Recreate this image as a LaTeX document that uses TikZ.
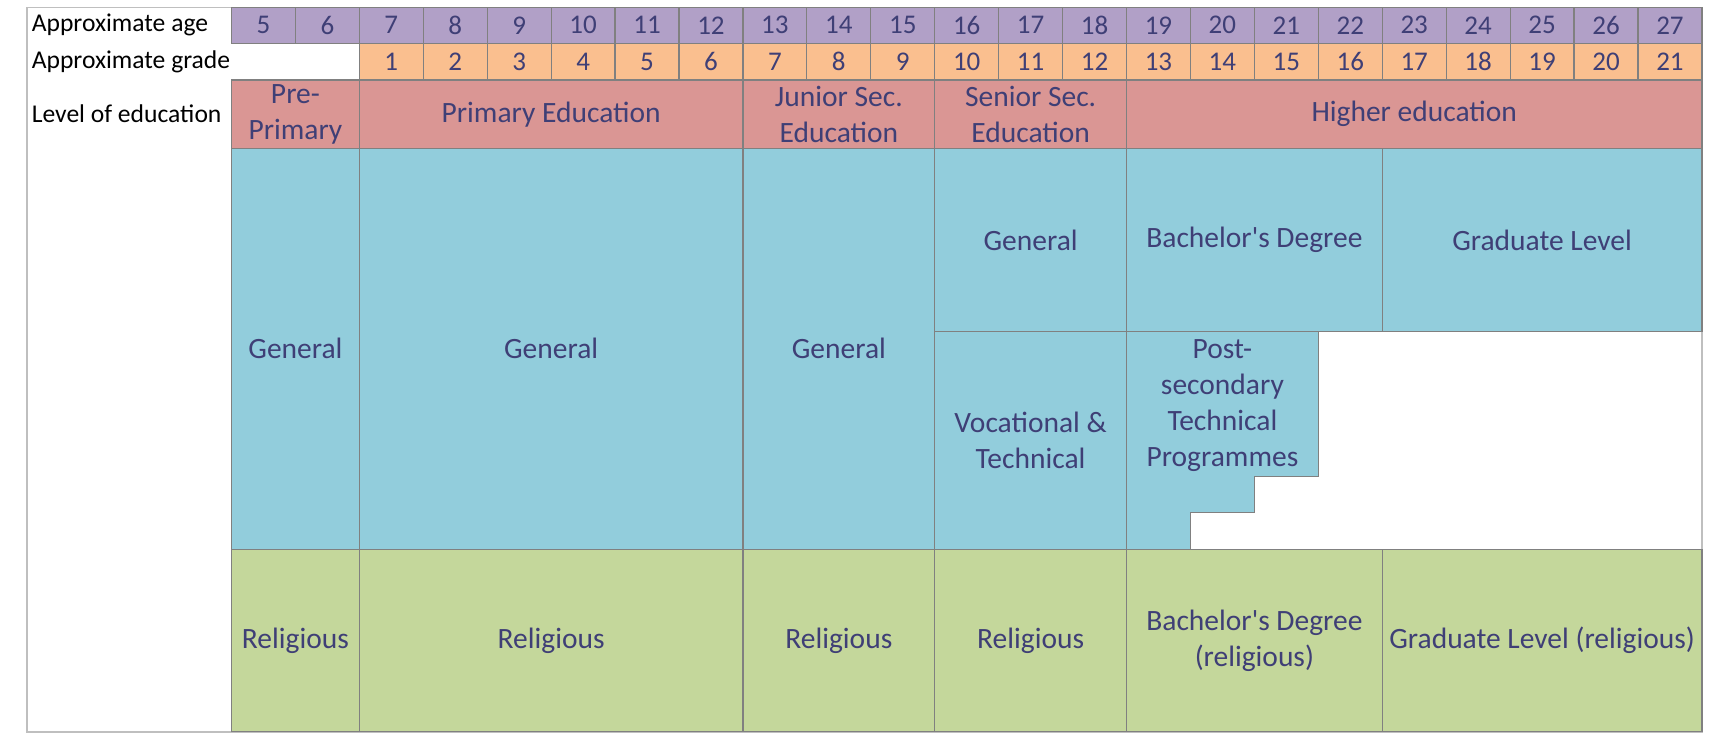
\documentclass[tikz,border=0pt]{standalone}
\usepackage{fontspec}
\setmainfont{Carlito}
\definecolor{agepurple}{RGB}{177,160,199}
\definecolor{gradeorange}{RGB}{250,191,143}
\definecolor{levelpink}{RGB}{218,150,148}
\definecolor{genblue}{RGB}{146,205,220}
\definecolor{relgreen}{RGB}{196,215,155}
\definecolor{textblue}{RGB}{63,63,118}
\definecolor{gridgray}{RGB}{128,128,128}
\definecolor{framegray}{RGB}{191,191,191}
\begin{document}
\begin{tikzpicture}[x=31.965pt,y=-0.5pt]
    \tikzstyle{cell} = [draw=gridgray, line width=0.6pt, inner sep=0pt,
    text=textblue, align=center, font=\fontsize{14.75}{18}\selectfont];
    \tikzstyle{num} = [cell, minimum width=31.965pt,
    font=\fontsize{13.5}{16}\selectfont];
    \tikzstyle{age} = [num, fill=agepurple, minimum height=18pt];
    \tikzstyle{grade} = [num, fill=gradeorange, minimum height=18.35pt];
    \tikzstyle{lvl} = [cell, fill=levelpink, minimum height=34.15pt];
    \tikzstyle{gen} = [cell, fill=genblue];
    \tikzstyle{rel} = [cell, fill=relgreen, minimum height=91.2pt];
    \tikzstyle{lbl} = [anchor=west, inner sep=0pt,
    font=\fontsize{12.8}{15}\selectfont];

    \useasboundingbox (-3.621,0) rectangle (23.471,741);
    \draw[framegray, line width=0.6pt] (-3.2,7.3) rectangle (23,732);

    \node[lbl] (agelbl) at (-3.13,25.3) {Approximate age};
    \node[lbl] (gradelbl) at (-3.13,61.65) {Approximate grade};
    \node[lbl] (levellbl) at (-3.13,114.15) {Level of education};

    \foreach \k in {0,...,22}{
      \pgfmathtruncatemacro\a{\k+5}
      \node[age] (age\a) at (\k+0.5,25.3) {\a};
    }
    \foreach \k in {2,...,22}{
      \pgfmathtruncatemacro\g{\k-1}
      \node[grade] (grade\g) at (\k+0.5,61.65) {\g};
    }

    \node[lvl, minimum width=63.93pt] (pre) at (1,114.15) {Pre-\\Primary};
    \node[lvl, minimum width=191.79pt] (prim) at (5,114.15) {Primary Education};
    \node[lvl, minimum width=95.9pt] (jun) at (9.5,114.15) {Junior Sec.\\Education};
    \node[lvl, minimum width=95.9pt] (sen) at (12.5,114.15) {Senior Sec.\\Education};
    \node[lvl, minimum width=287.69pt] (high) at (18.5,114.15) {Higher education};

    \node[gen, minimum width=63.93pt, minimum height=200.5pt] (genpre) at (1,348.8) {General};
    \node[gen, minimum width=191.79pt, minimum height=200.5pt] (genprim) at (5,348.8) {General};
    \node[gen, minimum width=95.9pt, minimum height=200.5pt] (genjun) at (9.5,348.8) {General};
    \node[gen, minimum width=95.9pt, minimum height=91.7pt] (gensen) at (12.5,240) {General};
    \node[gen, minimum width=95.9pt, minimum height=108.8pt] (voc) at (12.5,440.5) {Vocational \&\\Technical};
    \node[gen, minimum width=127.86pt, minimum height=91.7pt] (bach) at (16,240) {Bachelor\textquotesingle s Degree};
    \node[gen, minimum width=159.83pt, minimum height=91.7pt] (grad) at (20.5,240) {Graduate Level};

    \draw[draw=gridgray, line width=0.6pt, fill=genblue]
      (14,331.7) -- (17,331.7) -- (17,476.7) -- (16,476.7) -- (16,512.7)
      -- (15,512.7) -- (15,549.3) -- (14,549.3) -- cycle;
    \node[cell, draw=none] (post) at (15.5,406) {Post-\\secondary\\Technical\\Programmes};

    \node[rel, minimum width=63.93pt] (relpre) at (1,640.5) {Religious};
    \node[rel, minimum width=191.79pt] (relprim) at (5,640.5) {Religious};
    \node[rel, minimum width=95.9pt] (reljun) at (9.5,640.5) {Religious};
    \node[rel, minimum width=95.9pt] (relsen) at (12.5,640.5) {Religious};
    \node[rel, minimum width=127.86pt] (relbach) at (16,640.5) {Bachelor\textquotesingle s Degree\\(religious)};
    \node[rel, minimum width=159.83pt] (relgrad) at (20.5,640.5) {Graduate Level (religious)};

\end{tikzpicture}
\end{document}
